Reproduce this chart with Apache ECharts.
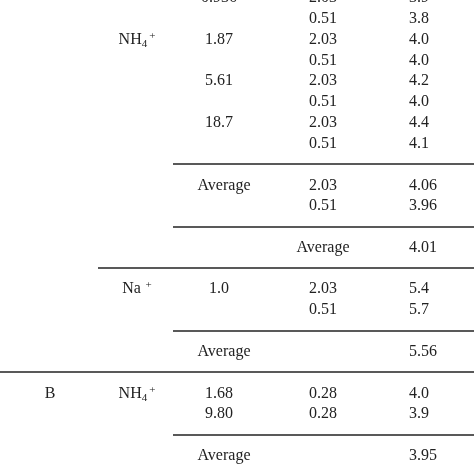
<!DOCTYPE html>
<html><head><meta charset="utf-8">
<script src="https://cdn.jsdelivr.net/npm/echarts@6/dist/echarts.min.js"></script>
<style>html,body{margin:0;background:#fff}#c{width:474px;height:474px}</style>
</head><body><div id="c"></div>
<script>
// table columns: group, ion, concentration, ratio, value
var colGroup = ['', '', '', '', '', '', '', '', '', '', '', '', '', '', '', '', 'B', '', ''];
var colIon   = ['', '', 'NH4', '', '', '', '', '', '', '', '', '', 'Na', '', '', '', 'NH4', '', ''];
var colConc  = ['0.936', '', '1.87', '', '5.61', '', '18.7', '', '', 'Average', '', '', '1.0', '', '', 'Average', '1.68', '9.80', 'Average'];
var colRatio = ['2.03', '0.51', '2.03', '0.51', '2.03', '0.51', '2.03', '0.51', '', '2.03', '0.51', 'Average', '2.03', '0.51', '', '', '0.28', '0.28', ''];
var colValue = ['3.9', '3.8', '4.0', '4.0', '4.2', '4.0', '4.4', '4.1', '', '4.06', '3.96', '4.01', '5.4', '5.7', '', '5.56', '4.0', '3.9', '3.95'];
// rules: [row index after which, start column]
var rules = [[8, 2], [10.9, 2], [11.9, 1], [13.9, 2], [14.9, 0], [17.9, 2]];

var rowY = [-2, 19, 40, 61, 81, 102, 123, 144, 164, 186, 206, 248, 289, 310, 331, 352, 394, 414, 456];
var lineY = [164, 227, 268, 331, 372, 435];
var lineX0 = [173, 173, 98, 173, 0, 173];
var colX = [50, 137, 219, 323, 409];

var chart = echarts.init(document.getElementById('c'));
var els = [];
var font = '"Liberation Serif", "DejaVu Serif", serif';
function txt(x, y, s, align) {
    if (!s) return;
    var t = s;
    if (s === 'NH4') t = 'NH{sub|4}{sup|+}';
    if (s === 'Na') t = 'Na{sup| +}';
    els.push({
        type: 'text', x: x, y: y,
        style: {
            text: t, fill: '#222', font: '16px ' + font,
            align: align, verticalAlign: 'middle',
            rich: {
                sub: {fontSize: 11, fontFamily: 'Liberation Serif', fill: '#222', padding: [8, 0, 0, 0]},
                sup: {fontSize: 11, fontFamily: 'Liberation Serif', fill: '#222', padding: [0, 0, 8, 2]}
            }
        }
    });
}
for (var i = 0; i < rowY.length; i++) {
    txt(colX[0], rowY[i], colGroup[i], 'center');
    txt(colX[1], rowY[i], colIon[i], 'center');
    txt(colConc[i] === 'Average' ? 224 : colX[2], rowY[i], colConc[i], 'center');
    txt(colX[3], rowY[i], colRatio[i], 'center');
    txt(colX[4], rowY[i], colValue[i], 'left');
}
for (var j = 0; j < lineY.length; j++) {
    els.push({type: 'line', shape: {x1: lineX0[j], y1: lineY[j], x2: 474, y2: lineY[j]},
        style: {stroke: '#222', lineWidth: 1.5}});
}
chart.setOption({animation: false, graphic: els});
</script></body></html>
